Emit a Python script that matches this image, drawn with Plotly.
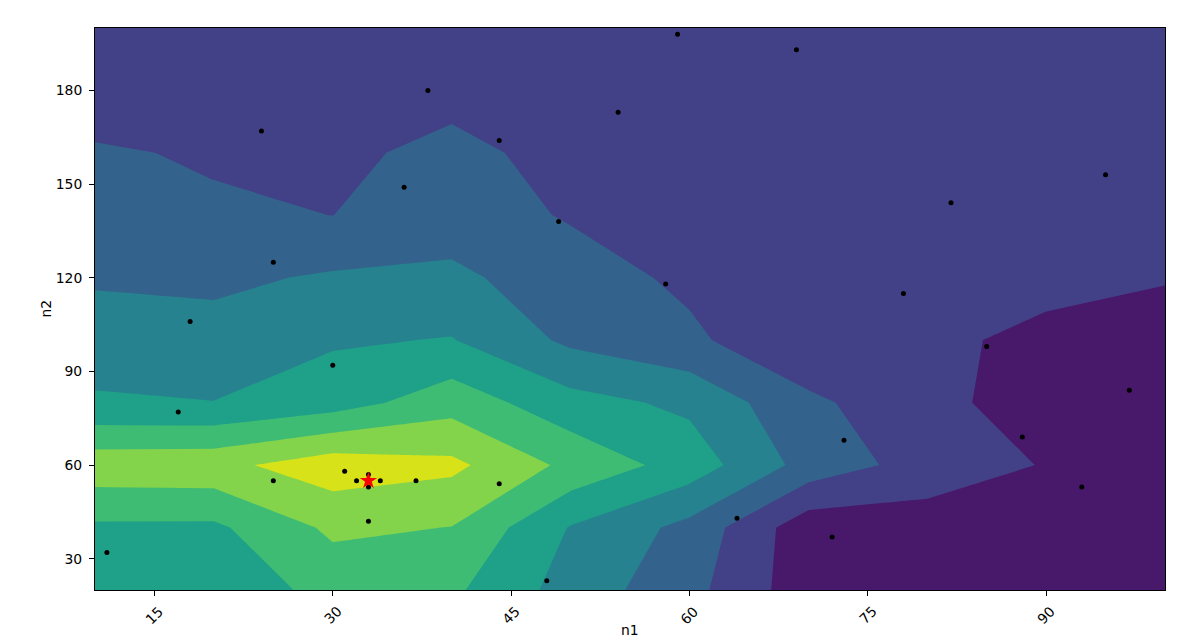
import plotly.graph_objects as go

# grid of the filled contour
n1_grid = [10, 20, 30, 40, 50, 60, 70, 80, 90, 100]
n2_grid = [20, 40, 60, 80, 100, 120, 140, 160, 180, 200]

# surface value at each grid node (in contour-band units), one list per n2 row
score_n2_20 = [4.30, 4.29, 5.35, 5.19, 3.58, 2.32, 0.40, 0.40, 0.35, 0.30]
score_n2_40 = [4.82, 4.81, 6.20, 5.98, 3.94, 2.70, 0.37, 0.506, 0.45, 0.40]
score_n2_60 = [6.64, 6.70, 7.58, 7.24, 5.75, 4.56, 2.63, 1.58, 0.94, 0.70]
score_n2_80 = [4.09, 4.02, 4.53, 5.59, 4.36, 3.79, 2.208, 1.306, 0.50, 0.40]
score_n2_100 = [3.64, 3.36, 3.89, 4.05, 2.797, 2.19, 1.19, 1.30, 0.66, 0.50]
score_n2_120 = [2.84, 2.80, 3.12, 3.21, 2.46, 1.80, 1.50, 1.45, 1.40, 1.07]
score_n2_140 = [2.60, 2.149, 1.995, 2.50, 1.91, 1.60, 1.50, 1.45, 1.45, 1.40]
score_n2_160 = [2.12, 1.885, 1.755, 2.30, 1.63, 1.55, 1.50, 1.45, 1.40, 1.35]
score_n2_180 = [1.414, 1.45, 1.50, 1.65, 1.50, 1.45, 1.40, 1.35, 1.30, 1.30]
score_n2_200 = [1.30, 1.30, 1.35, 1.40, 1.35, 1.30, 1.30, 1.25, 1.25, 1.20]

# sampled points
sample_n1 = [24, 38, 36, 44, 59, 69, 54, 82, 95, 25, 18, 30, 49, 58, 78, 85, 97,
             17, 11, 25, 31, 32, 33, 33, 34, 37, 33, 33, 44, 48, 64, 73, 88, 93, 72]
sample_n2 = [167, 180, 149, 164, 198, 193, 173, 144, 153, 125, 106, 92, 138, 118, 115, 98, 84,
             77, 32, 55, 58, 55, 57, 53, 55, 55, 42, 55, 54, 23, 43, 68, 69, 53, 37]

# best point
best_n1 = [33]
best_n2 = [55]

x_ticks = [15, 30, 45, 60, 75, 90]
y_ticks = [30, 60, 90, 120, 150, 180]

band_colors = ["#48186a", "#424086", "#33638d", "#26828e",
               "#1fa088", "#3fbc73", "#84d44b", "#d8e219"]

z = [score_n2_20, score_n2_40, score_n2_60, score_n2_80, score_n2_100,
     score_n2_120, score_n2_140, score_n2_160, score_n2_180, score_n2_200]

colorscale = [[k / (len(band_colors) - 1), c] for k, c in enumerate(band_colors)]

fig = go.Figure()
fig.add_trace(go.Contour(
    x=n1_grid, y=n2_grid, z=z,
    autocontour=False,
    contours=dict(start=1, end=7, size=1, coloring="fill", showlines=False),
    line=dict(width=0, smoothing=0),
    colorscale=colorscale,
    showscale=False,
    hoverinfo="skip",
))
fig.add_trace(go.Scatter(
    x=sample_n1, y=sample_n2, mode="markers",
    marker=dict(color="black", size=5),
    hoverinfo="skip", showlegend=False,
))
fig.add_trace(go.Scatter(
    x=best_n1, y=best_n2, mode="markers",
    marker=dict(color="red", size=13, symbol="star", line=dict(width=0)),
    hoverinfo="skip", showlegend=False,
))

font = dict(family="DejaVu Sans", size=13.9, color="black")

# the page body has an 8 px margin: figure coords = page coords - 8
OFF = 8
W, H = 1200 - OFF, 640 - OFF
plot_left, plot_right = 94.5 - OFF, 1164.7 - OFF
plot_top, plot_bottom = 28 - OFF, 590.2 - OFF
L, R = plot_left, W - plot_right
T, B = plot_top, H - plot_bottom
plot_w = plot_right - plot_left
plot_h = plot_bottom - plot_top


def paper_y(page_y):
    return (plot_bottom - (page_y - OFF)) / plot_h


def paper_x(page_x):
    return ((page_x - OFF) - plot_left) / plot_w


annotations = []
for v in x_ticks:
    annotations.append(dict(
        x=v, xref="x", y=paper_y(615), yref="paper",
        text=str(v), showarrow=False, textangle=-45,
        xanchor="center", yanchor="middle", font=font,
    ))
annotations.append(dict(
    x=0.5, xref="paper", y=paper_y(630), yref="paper",
    text="n1", showarrow=False, xanchor="center", yanchor="middle", font=font,
))
annotations.append(dict(
    x=paper_x(45), xref="paper", y=0.5, yref="paper",
    text="n2", showarrow=False, textangle=-90,
    xanchor="center", yanchor="middle", font=font,
))

fig.update_layout(
    width=W, height=H,
    margin=dict(l=L, r=R, t=T, b=B, pad=0),
    paper_bgcolor="white", plot_bgcolor="white",
    showlegend=False,
    font=font,
    annotations=annotations,
    xaxis=dict(
        range=[10, 100], tickvals=x_ticks, showticklabels=False,
        ticks="outside", ticklen=5, tickwidth=1, tickcolor="black",
        showline=True, linecolor="black", linewidth=1, mirror=True,
        showgrid=False, zeroline=False,
    ),
    yaxis=dict(
        range=[20, 200], tickvals=y_ticks,
        ticks="outside", ticklen=5, tickwidth=1, tickcolor="black",
        ticklabelstandoff=4,
        showline=True, linecolor="black", linewidth=1, mirror=True,
        showgrid=False, zeroline=False, tickfont=font,
    ),
)

fig.write_html("out.html", config={"displayModeBar": False})
